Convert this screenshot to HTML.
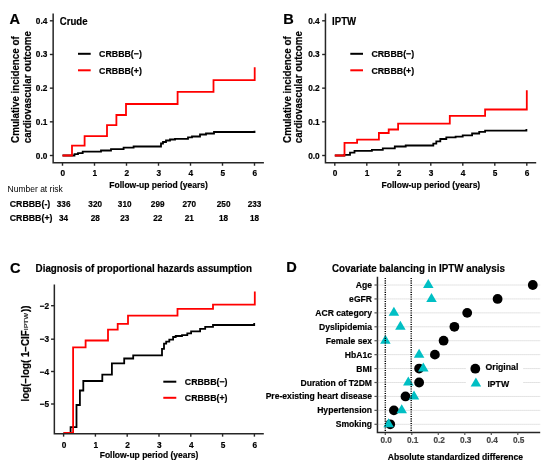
<!DOCTYPE html>
<html><head><meta charset="utf-8"><style>
html,body{margin:0;padding:0;background:#fff;width:550px;height:467px;overflow:hidden}
svg{display:block;filter:blur(0.3px)}
text{font-family:"Liberation Sans", sans-serif}
</style></head><body>
<svg width="550" height="467" viewBox="0 0 550 467">
<rect width="550" height="467" fill="#fff"/>
<text transform="translate(9.50,23.75) scale(1,1.05)" font-size="14.6" font-weight="bold" text-anchor="start" fill="#000"  stroke="#000" stroke-width="0.18">A</text>
<text x="0.00" y="0.00" font-size="9.8" font-weight="bold" text-anchor="middle" fill="#000" transform="translate(19.00,89.6) rotate(-90) scale(1,1.05)" stroke="#000" stroke-width="0.18">Cmulative incidence of</text>
<text x="0.00" y="0.00" font-size="9.75" font-weight="bold" text-anchor="middle" fill="#000" transform="translate(31.30,87.2) rotate(-90) scale(1,1.05)" stroke="#000" stroke-width="0.18">cardiovascular outcome</text>
<path d="M53.15,13.5 V162.75 H263.90" fill="none" stroke="#262626" stroke-width="1.5"/>
<line x1="49.85" y1="155.50" x2="53.15" y2="155.50" stroke="#262626" stroke-width="1.4" />
<text transform="translate(47.40,158.50) scale(1,1.05)" font-size="8.3" font-weight="bold" text-anchor="end" fill="#000"  stroke="#000" stroke-width="0.18">0.0</text>
<line x1="49.85" y1="121.83" x2="53.15" y2="121.83" stroke="#262626" stroke-width="1.4" />
<text transform="translate(47.40,124.83) scale(1,1.05)" font-size="8.3" font-weight="bold" text-anchor="end" fill="#000"  stroke="#000" stroke-width="0.18">0.1</text>
<line x1="49.85" y1="88.15" x2="53.15" y2="88.15" stroke="#262626" stroke-width="1.4" />
<text transform="translate(47.40,91.15) scale(1,1.05)" font-size="8.3" font-weight="bold" text-anchor="end" fill="#000"  stroke="#000" stroke-width="0.18">0.2</text>
<line x1="49.85" y1="54.48" x2="53.15" y2="54.48" stroke="#262626" stroke-width="1.4" />
<text transform="translate(47.40,57.48) scale(1,1.05)" font-size="8.3" font-weight="bold" text-anchor="end" fill="#000"  stroke="#000" stroke-width="0.18">0.3</text>
<line x1="49.85" y1="20.80" x2="53.15" y2="20.80" stroke="#262626" stroke-width="1.4" />
<text transform="translate(47.40,23.80) scale(1,1.05)" font-size="8.3" font-weight="bold" text-anchor="end" fill="#000"  stroke="#000" stroke-width="0.18">0.4</text>
<line x1="62.50" y1="162.75" x2="62.50" y2="165.75" stroke="#262626" stroke-width="1.4" />
<text transform="translate(62.70,176.10) scale(1,1.05)" font-size="8.3" font-weight="bold" text-anchor="middle" fill="#000"  stroke="#000" stroke-width="0.18">0</text>
<line x1="94.50" y1="162.75" x2="94.50" y2="165.75" stroke="#262626" stroke-width="1.4" />
<text transform="translate(94.70,176.10) scale(1,1.05)" font-size="8.3" font-weight="bold" text-anchor="middle" fill="#000"  stroke="#000" stroke-width="0.18">1</text>
<line x1="126.50" y1="162.75" x2="126.50" y2="165.75" stroke="#262626" stroke-width="1.4" />
<text transform="translate(126.70,176.10) scale(1,1.05)" font-size="8.3" font-weight="bold" text-anchor="middle" fill="#000"  stroke="#000" stroke-width="0.18">2</text>
<line x1="158.50" y1="162.75" x2="158.50" y2="165.75" stroke="#262626" stroke-width="1.4" />
<text transform="translate(158.70,176.10) scale(1,1.05)" font-size="8.3" font-weight="bold" text-anchor="middle" fill="#000"  stroke="#000" stroke-width="0.18">3</text>
<line x1="190.50" y1="162.75" x2="190.50" y2="165.75" stroke="#262626" stroke-width="1.4" />
<text transform="translate(190.70,176.10) scale(1,1.05)" font-size="8.3" font-weight="bold" text-anchor="middle" fill="#000"  stroke="#000" stroke-width="0.18">4</text>
<line x1="222.50" y1="162.75" x2="222.50" y2="165.75" stroke="#262626" stroke-width="1.4" />
<text transform="translate(222.70,176.10) scale(1,1.05)" font-size="8.3" font-weight="bold" text-anchor="middle" fill="#000"  stroke="#000" stroke-width="0.18">5</text>
<line x1="254.50" y1="162.75" x2="254.50" y2="165.75" stroke="#262626" stroke-width="1.4" />
<text transform="translate(254.70,176.10) scale(1,1.05)" font-size="8.3" font-weight="bold" text-anchor="middle" fill="#000"  stroke="#000" stroke-width="0.18">6</text>
<text transform="translate(158.60,187.50) scale(1,1.05)" font-size="8.5" font-weight="bold" text-anchor="middle" fill="#000"  stroke="#000" stroke-width="0.18">Follow-up period (years)</text>
<text transform="translate(59.80,25.00) scale(1,1.05)" font-size="9.6" font-weight="bold" text-anchor="start" fill="#000"  stroke="#000" stroke-width="0.18">Crude</text>
<line x1="78.00" y1="53.80" x2="90.70" y2="53.80" stroke="#000" stroke-width="2" />
<line x1="78.00" y1="70.30" x2="90.70" y2="70.30" stroke="#ff0000" stroke-width="2" />
<text transform="translate(99.10,57.30) scale(1,1.05)" font-size="8.8" font-weight="bold" text-anchor="start" fill="#000"  stroke="#000" stroke-width="0.18">CRBBB(−)</text>
<text transform="translate(99.10,73.80) scale(1,1.05)" font-size="8.8" font-weight="bold" text-anchor="start" fill="#000"  stroke="#000" stroke-width="0.18">CRBBB(+)</text>
<polyline points="62.50,155.50 74.50,155.50 74.50,154.20 78.00,154.20 78.00,153.20 82.70,153.20 82.70,151.70 101.00,151.70 101.00,150.50 111.00,150.50 111.00,149.20 123.60,149.20 123.60,147.70 133.60,147.70 133.60,146.50 161.00,146.50 161.00,143.50 163.00,143.50 163.00,142.00 166.00,142.00 166.00,140.50 170.00,140.50 170.00,139.50 175.00,139.50 175.00,138.80 188.00,138.80 188.00,137.30 192.00,137.30 192.00,136.50 200.00,136.50 200.00,134.50 206.00,134.50 206.00,133.50 214.00,133.50 214.00,132.00 254.50,132.00 254.50,130.80" fill="none" stroke="#000" stroke-width="1.8" stroke-linejoin="miter" stroke-linecap="butt"/>
<polyline points="62.50,155.50 72.00,155.50 72.00,145.60 84.60,145.60 84.60,136.20 107.00,136.20 107.00,125.20 116.40,125.20 116.40,115.00 126.00,115.00 126.00,104.00 177.60,104.00 177.60,91.80 213.50,91.80 213.50,80.10 254.70,80.10 254.70,67.20" fill="none" stroke="#ff0000" stroke-width="1.8" stroke-linejoin="miter" stroke-linecap="butt"/>
<text transform="translate(283.20,23.75) scale(1,1.05)" font-size="14.6" font-weight="bold" text-anchor="start" fill="#000"  stroke="#000" stroke-width="0.18">B</text>
<text x="0.00" y="0.00" font-size="9.8" font-weight="bold" text-anchor="middle" fill="#000" transform="translate(290.50,89.6) rotate(-90) scale(1,1.05)" stroke="#000" stroke-width="0.18">Cmulative incidence of</text>
<text x="0.00" y="0.00" font-size="9.75" font-weight="bold" text-anchor="middle" fill="#000" transform="translate(301.90,87.2) rotate(-90) scale(1,1.05)" stroke="#000" stroke-width="0.18">cardiovascular outcome</text>
<path d="M325.45,13.5 V162.75 H536.20" fill="none" stroke="#262626" stroke-width="1.5"/>
<line x1="322.15" y1="155.50" x2="325.45" y2="155.50" stroke="#262626" stroke-width="1.4" />
<text transform="translate(319.70,158.50) scale(1,1.05)" font-size="8.3" font-weight="bold" text-anchor="end" fill="#000"  stroke="#000" stroke-width="0.18">0.0</text>
<line x1="322.15" y1="121.83" x2="325.45" y2="121.83" stroke="#262626" stroke-width="1.4" />
<text transform="translate(319.70,124.83) scale(1,1.05)" font-size="8.3" font-weight="bold" text-anchor="end" fill="#000"  stroke="#000" stroke-width="0.18">0.1</text>
<line x1="322.15" y1="88.15" x2="325.45" y2="88.15" stroke="#262626" stroke-width="1.4" />
<text transform="translate(319.70,91.15) scale(1,1.05)" font-size="8.3" font-weight="bold" text-anchor="end" fill="#000"  stroke="#000" stroke-width="0.18">0.2</text>
<line x1="322.15" y1="54.48" x2="325.45" y2="54.48" stroke="#262626" stroke-width="1.4" />
<text transform="translate(319.70,57.48) scale(1,1.05)" font-size="8.3" font-weight="bold" text-anchor="end" fill="#000"  stroke="#000" stroke-width="0.18">0.3</text>
<line x1="322.15" y1="20.80" x2="325.45" y2="20.80" stroke="#262626" stroke-width="1.4" />
<text transform="translate(319.70,23.80) scale(1,1.05)" font-size="8.3" font-weight="bold" text-anchor="end" fill="#000"  stroke="#000" stroke-width="0.18">0.4</text>
<line x1="334.80" y1="162.75" x2="334.80" y2="165.75" stroke="#262626" stroke-width="1.4" />
<text transform="translate(335.00,176.10) scale(1,1.05)" font-size="8.3" font-weight="bold" text-anchor="middle" fill="#000"  stroke="#000" stroke-width="0.18">0</text>
<line x1="366.80" y1="162.75" x2="366.80" y2="165.75" stroke="#262626" stroke-width="1.4" />
<text transform="translate(367.00,176.10) scale(1,1.05)" font-size="8.3" font-weight="bold" text-anchor="middle" fill="#000"  stroke="#000" stroke-width="0.18">1</text>
<line x1="398.80" y1="162.75" x2="398.80" y2="165.75" stroke="#262626" stroke-width="1.4" />
<text transform="translate(399.00,176.10) scale(1,1.05)" font-size="8.3" font-weight="bold" text-anchor="middle" fill="#000"  stroke="#000" stroke-width="0.18">2</text>
<line x1="430.80" y1="162.75" x2="430.80" y2="165.75" stroke="#262626" stroke-width="1.4" />
<text transform="translate(431.00,176.10) scale(1,1.05)" font-size="8.3" font-weight="bold" text-anchor="middle" fill="#000"  stroke="#000" stroke-width="0.18">3</text>
<line x1="462.80" y1="162.75" x2="462.80" y2="165.75" stroke="#262626" stroke-width="1.4" />
<text transform="translate(463.00,176.10) scale(1,1.05)" font-size="8.3" font-weight="bold" text-anchor="middle" fill="#000"  stroke="#000" stroke-width="0.18">4</text>
<line x1="494.80" y1="162.75" x2="494.80" y2="165.75" stroke="#262626" stroke-width="1.4" />
<text transform="translate(495.00,176.10) scale(1,1.05)" font-size="8.3" font-weight="bold" text-anchor="middle" fill="#000"  stroke="#000" stroke-width="0.18">5</text>
<line x1="526.80" y1="162.75" x2="526.80" y2="165.75" stroke="#262626" stroke-width="1.4" />
<text transform="translate(527.00,176.10) scale(1,1.05)" font-size="8.3" font-weight="bold" text-anchor="middle" fill="#000"  stroke="#000" stroke-width="0.18">6</text>
<text transform="translate(430.90,187.50) scale(1,1.05)" font-size="8.5" font-weight="bold" text-anchor="middle" fill="#000"  stroke="#000" stroke-width="0.18">Follow-up period (years)</text>
<text transform="translate(332.10,25.00) scale(1,1.05)" font-size="9.6" font-weight="bold" text-anchor="start" fill="#000"  stroke="#000" stroke-width="0.18">IPTW</text>
<line x1="350.30" y1="53.80" x2="363.00" y2="53.80" stroke="#000" stroke-width="2" />
<line x1="350.30" y1="70.30" x2="363.00" y2="70.30" stroke="#ff0000" stroke-width="2" />
<text transform="translate(371.40,57.30) scale(1,1.05)" font-size="8.8" font-weight="bold" text-anchor="start" fill="#000"  stroke="#000" stroke-width="0.18">CRBBB(−)</text>
<text transform="translate(371.40,73.80) scale(1,1.05)" font-size="8.8" font-weight="bold" text-anchor="start" fill="#000"  stroke="#000" stroke-width="0.18">CRBBB(+)</text>
<polyline points="334.80,155.50 344.30,155.50 344.30,154.80 350.00,154.80 350.00,152.70 354.50,152.70 354.50,150.90 371.90,150.90 371.90,149.80 382.80,149.80 382.80,148.30 394.80,148.30 394.80,146.50 405.70,146.50 405.70,145.50 433.30,145.50 433.30,143.70 436.30,143.70 436.30,141.30 440.30,141.30 440.30,139.00 446.30,139.00 446.30,137.30 455.60,137.30 455.60,136.60 462.70,136.60 462.70,135.40 472.10,135.40 472.10,133.50 479.20,133.50 479.20,131.90 485.10,131.90 485.10,130.70 526.40,130.70 526.40,129.10" fill="none" stroke="#000" stroke-width="1.8" stroke-linejoin="miter" stroke-linecap="butt"/>
<polyline points="334.80,155.50 344.50,155.50 344.50,142.80 357.10,142.80 357.10,139.60 378.90,139.60 378.90,133.00 388.70,133.00 388.70,129.50 398.10,129.50 398.10,123.60 449.80,123.60 449.80,115.90 485.10,115.90 485.10,109.50 526.80,109.50 526.80,90.20" fill="none" stroke="#ff0000" stroke-width="1.8" stroke-linejoin="miter" stroke-linecap="butt"/>
<text transform="translate(7.60,191.90) scale(1,1.05)" font-size="8.5" font-weight="normal" text-anchor="start" fill="#000" >Number at risk</text>
<text transform="translate(9.70,206.70) scale(1,1.05)" font-size="8.8" font-weight="bold" text-anchor="start" fill="#000"  stroke="#000" stroke-width="0.18">CRBBB(-)</text>
<text transform="translate(9.70,220.60) scale(1,1.05)" font-size="8.8" font-weight="bold" text-anchor="start" fill="#000"  stroke="#000" stroke-width="0.18">CRBBB(+)</text>
<text transform="translate(63.60,206.60) scale(1,1.05)" font-size="8.2" font-weight="bold" text-anchor="middle" fill="#000"  stroke="#000" stroke-width="0.18">336</text>
<text transform="translate(95.20,206.60) scale(1,1.05)" font-size="8.2" font-weight="bold" text-anchor="middle" fill="#000"  stroke="#000" stroke-width="0.18">320</text>
<text transform="translate(124.70,206.60) scale(1,1.05)" font-size="8.2" font-weight="bold" text-anchor="middle" fill="#000"  stroke="#000" stroke-width="0.18">310</text>
<text transform="translate(157.70,206.60) scale(1,1.05)" font-size="8.2" font-weight="bold" text-anchor="middle" fill="#000"  stroke="#000" stroke-width="0.18">299</text>
<text transform="translate(189.30,206.60) scale(1,1.05)" font-size="8.2" font-weight="bold" text-anchor="middle" fill="#000"  stroke="#000" stroke-width="0.18">270</text>
<text transform="translate(223.60,206.60) scale(1,1.05)" font-size="8.2" font-weight="bold" text-anchor="middle" fill="#000"  stroke="#000" stroke-width="0.18">250</text>
<text transform="translate(254.50,206.60) scale(1,1.05)" font-size="8.2" font-weight="bold" text-anchor="middle" fill="#000"  stroke="#000" stroke-width="0.18">233</text>
<text transform="translate(63.60,221.30) scale(1,1.05)" font-size="8.2" font-weight="bold" text-anchor="middle" fill="#000"  stroke="#000" stroke-width="0.18">34</text>
<text transform="translate(95.20,221.30) scale(1,1.05)" font-size="8.2" font-weight="bold" text-anchor="middle" fill="#000"  stroke="#000" stroke-width="0.18">28</text>
<text transform="translate(124.70,221.30) scale(1,1.05)" font-size="8.2" font-weight="bold" text-anchor="middle" fill="#000"  stroke="#000" stroke-width="0.18">23</text>
<text transform="translate(157.70,221.30) scale(1,1.05)" font-size="8.2" font-weight="bold" text-anchor="middle" fill="#000"  stroke="#000" stroke-width="0.18">22</text>
<text transform="translate(189.30,221.30) scale(1,1.05)" font-size="8.2" font-weight="bold" text-anchor="middle" fill="#000"  stroke="#000" stroke-width="0.18">21</text>
<text transform="translate(223.60,221.30) scale(1,1.05)" font-size="8.2" font-weight="bold" text-anchor="middle" fill="#000"  stroke="#000" stroke-width="0.18">18</text>
<text transform="translate(254.50,221.30) scale(1,1.05)" font-size="8.2" font-weight="bold" text-anchor="middle" fill="#000"  stroke="#000" stroke-width="0.18">18</text>
<text transform="translate(10.00,272.60) scale(1,1.05)" font-size="14.6" font-weight="bold" text-anchor="start" fill="#000"  stroke="#000" stroke-width="0.18">C</text>
<text transform="translate(35.60,272.30) scale(1,1.05)" font-size="9.8" font-weight="bold" text-anchor="start" fill="#000"  stroke="#000" stroke-width="0.18">Diagnosis of proportional hazards assumption</text>
<line x1="51.05" y1="305.70" x2="54.35" y2="305.70" stroke="#262626" stroke-width="1.4" />
<text transform="translate(49.00,308.70) scale(1,1.05)" font-size="8.3" font-weight="bold" text-anchor="end" fill="#000"  stroke="#000" stroke-width="0.18">−2</text>
<line x1="51.05" y1="339.20" x2="54.35" y2="339.20" stroke="#262626" stroke-width="1.4" />
<text transform="translate(49.00,342.20) scale(1,1.05)" font-size="8.3" font-weight="bold" text-anchor="end" fill="#000"  stroke="#000" stroke-width="0.18">−3</text>
<line x1="51.05" y1="371.50" x2="54.35" y2="371.50" stroke="#262626" stroke-width="1.4" />
<text transform="translate(49.00,374.50) scale(1,1.05)" font-size="8.3" font-weight="bold" text-anchor="end" fill="#000"  stroke="#000" stroke-width="0.18">−4</text>
<line x1="51.05" y1="404.00" x2="54.35" y2="404.00" stroke="#262626" stroke-width="1.4" />
<text transform="translate(49.00,407.00) scale(1,1.05)" font-size="8.3" font-weight="bold" text-anchor="end" fill="#000"  stroke="#000" stroke-width="0.18">−5</text>
<line x1="63.60" y1="433.65" x2="63.60" y2="436.65" stroke="#262626" stroke-width="1.4" />
<text transform="translate(64.00,448.00) scale(1,1.05)" font-size="8.3" font-weight="bold" text-anchor="middle" fill="#000"  stroke="#000" stroke-width="0.18">0</text>
<line x1="95.40" y1="433.65" x2="95.40" y2="436.65" stroke="#262626" stroke-width="1.4" />
<text transform="translate(95.80,448.00) scale(1,1.05)" font-size="8.3" font-weight="bold" text-anchor="middle" fill="#000"  stroke="#000" stroke-width="0.18">1</text>
<line x1="127.20" y1="433.65" x2="127.20" y2="436.65" stroke="#262626" stroke-width="1.4" />
<text transform="translate(127.60,448.00) scale(1,1.05)" font-size="8.3" font-weight="bold" text-anchor="middle" fill="#000"  stroke="#000" stroke-width="0.18">2</text>
<line x1="159.00" y1="433.65" x2="159.00" y2="436.65" stroke="#262626" stroke-width="1.4" />
<text transform="translate(159.40,448.00) scale(1,1.05)" font-size="8.3" font-weight="bold" text-anchor="middle" fill="#000"  stroke="#000" stroke-width="0.18">3</text>
<line x1="190.80" y1="433.65" x2="190.80" y2="436.65" stroke="#262626" stroke-width="1.4" />
<text transform="translate(191.20,448.00) scale(1,1.05)" font-size="8.3" font-weight="bold" text-anchor="middle" fill="#000"  stroke="#000" stroke-width="0.18">4</text>
<line x1="222.60" y1="433.65" x2="222.60" y2="436.65" stroke="#262626" stroke-width="1.4" />
<text transform="translate(223.00,448.00) scale(1,1.05)" font-size="8.3" font-weight="bold" text-anchor="middle" fill="#000"  stroke="#000" stroke-width="0.18">5</text>
<line x1="254.40" y1="433.65" x2="254.40" y2="436.65" stroke="#262626" stroke-width="1.4" />
<text transform="translate(254.80,448.00) scale(1,1.05)" font-size="8.3" font-weight="bold" text-anchor="middle" fill="#000"  stroke="#000" stroke-width="0.18">6</text>
<text transform="translate(149.00,458.20) scale(1,1.05)" font-size="8.5" font-weight="bold" text-anchor="middle" fill="#000"  stroke="#000" stroke-width="0.18">Follow-up period (years)</text>
<text transform="translate(29.2,401.4) rotate(-90) scale(1,1.05)" font-size="9.8" font-weight="bold" stroke="#000" stroke-width="0.18">log(−log( 1−CIF<tspan font-size="5.4" fill="#3a3a3a" stroke="#3a3a3a" stroke-width="0.1" dy="-1.1" textLength="17.3" lengthAdjust="spacingAndGlyphs">IPTW</tspan><tspan dx="0.9" dy="1.1">))</tspan></text>
<line x1="163.30" y1="381.70" x2="176.30" y2="381.70" stroke="#000" stroke-width="2" />
<line x1="163.30" y1="397.80" x2="176.30" y2="397.80" stroke="#ff0000" stroke-width="2" />
<text transform="translate(184.80,385.20) scale(1,1.05)" font-size="8.8" font-weight="bold" text-anchor="start" fill="#000"  stroke="#000" stroke-width="0.18">CRBBB(−)</text>
<text transform="translate(184.80,401.30) scale(1,1.05)" font-size="8.8" font-weight="bold" text-anchor="start" fill="#000"  stroke="#000" stroke-width="0.18">CRBBB(+)</text>
<clipPath id="cc"><rect x="54" y="280" width="215" height="154"/></clipPath>
<g clip-path="url(#cc)">
<polyline points="63.60,433.00 70.60,433.00 70.60,427.20 76.50,427.20 76.50,405.00 79.90,405.00 79.90,390.50 83.30,390.50 83.30,381.00 102.30,381.00 102.30,374.60 111.90,374.60 111.90,363.30 124.20,363.30 124.20,358.50 133.20,358.50 133.20,355.30 162.00,355.30 162.00,348.90 164.00,348.90 164.00,343.70 166.20,343.70 166.20,341.70 169.30,341.70 169.30,339.60 173.10,339.60 173.10,337.00 175.70,337.00 175.70,336.00 182.00,336.00 182.00,335.20 187.30,335.20 187.30,333.40 191.10,333.40 191.10,331.40 200.10,331.40 200.10,328.80 205.20,328.80 205.20,326.80 213.00,326.80 213.00,325.00 254.20,325.00 254.20,322.90" fill="none" stroke="#000" stroke-width="1.8" stroke-linejoin="miter" stroke-linecap="butt"/>
<polyline points="63.60,433.00 73.10,433.00 73.10,347.30 85.60,347.30 85.60,340.50 108.00,340.50 108.00,329.60 117.70,329.60 117.70,323.80 128.00,323.80 128.00,315.70 177.50,315.70 177.50,308.80 213.00,308.80 213.00,304.70 254.80,304.70 254.80,291.60" fill="none" stroke="#ff0000" stroke-width="1.8" stroke-linejoin="miter" stroke-linecap="butt"/>
</g>
<path d="M54.35,284.4 V433.65 H263.80" fill="none" stroke="#262626" stroke-width="1.5"/>
<text transform="translate(286.30,272.30) scale(1,1.05)" font-size="14.6" font-weight="bold" text-anchor="start" fill="#000"  stroke="#000" stroke-width="0.18">D</text>
<text transform="translate(332.00,272.00) scale(1,1.05)" font-size="9.8" font-weight="bold" text-anchor="start" fill="#000"  stroke="#000" stroke-width="0.18">Covariate balancing in IPTW analysis</text>
<line x1="377.45" y1="285.00" x2="540.20" y2="285.00" stroke="#d2d2d2" stroke-width="1" stroke-dasharray="1.2,0.8"/>
<line x1="377.45" y1="298.93" x2="540.20" y2="298.93" stroke="#d2d2d2" stroke-width="1" stroke-dasharray="1.2,0.8"/>
<line x1="377.45" y1="312.86" x2="540.20" y2="312.86" stroke="#d2d2d2" stroke-width="1" stroke-dasharray="1.2,0.8"/>
<line x1="377.45" y1="326.79" x2="540.20" y2="326.79" stroke="#d2d2d2" stroke-width="1" stroke-dasharray="1.2,0.8"/>
<line x1="377.45" y1="340.72" x2="540.20" y2="340.72" stroke="#d2d2d2" stroke-width="1" stroke-dasharray="1.2,0.8"/>
<line x1="377.45" y1="354.65" x2="540.20" y2="354.65" stroke="#d2d2d2" stroke-width="1" stroke-dasharray="1.2,0.8"/>
<line x1="377.45" y1="368.58" x2="540.20" y2="368.58" stroke="#d2d2d2" stroke-width="1" stroke-dasharray="1.2,0.8"/>
<line x1="377.45" y1="382.51" x2="540.20" y2="382.51" stroke="#d2d2d2" stroke-width="1" stroke-dasharray="1.2,0.8"/>
<line x1="377.45" y1="396.44" x2="540.20" y2="396.44" stroke="#d2d2d2" stroke-width="1" stroke-dasharray="1.2,0.8"/>
<line x1="377.45" y1="410.37" x2="540.20" y2="410.37" stroke="#d2d2d2" stroke-width="1" stroke-dasharray="1.2,0.8"/>
<line x1="377.45" y1="424.30" x2="540.20" y2="424.30" stroke="#d2d2d2" stroke-width="1" stroke-dasharray="1.2,0.8"/>
<path d="M377.45,276.8 V432.60 H540.20" fill="none" stroke="#262626" stroke-width="1.5"/>
<line x1="374.45" y1="285.00" x2="377.45" y2="285.00" stroke="#555" stroke-width="1.2" />
<text transform="translate(372.00,288.00) scale(1,1.05)" font-size="8.6" font-weight="bold" text-anchor="end" fill="#000"  stroke="#000" stroke-width="0.18">Age</text>
<line x1="374.45" y1="298.93" x2="377.45" y2="298.93" stroke="#555" stroke-width="1.2" />
<text transform="translate(372.00,301.93) scale(1,1.05)" font-size="8.6" font-weight="bold" text-anchor="end" fill="#000"  stroke="#000" stroke-width="0.18">eGFR</text>
<line x1="374.45" y1="312.86" x2="377.45" y2="312.86" stroke="#555" stroke-width="1.2" />
<text transform="translate(372.00,315.86) scale(1,1.05)" font-size="8.6" font-weight="bold" text-anchor="end" fill="#000"  stroke="#000" stroke-width="0.18">ACR category</text>
<line x1="374.45" y1="326.79" x2="377.45" y2="326.79" stroke="#555" stroke-width="1.2" />
<text transform="translate(372.00,329.79) scale(1,1.05)" font-size="8.6" font-weight="bold" text-anchor="end" fill="#000"  stroke="#000" stroke-width="0.18">Dyslipidemia</text>
<line x1="374.45" y1="340.72" x2="377.45" y2="340.72" stroke="#555" stroke-width="1.2" />
<text transform="translate(372.00,343.72) scale(1,1.05)" font-size="8.6" font-weight="bold" text-anchor="end" fill="#000"  stroke="#000" stroke-width="0.18">Female sex</text>
<line x1="374.45" y1="354.65" x2="377.45" y2="354.65" stroke="#555" stroke-width="1.2" />
<text transform="translate(372.00,357.65) scale(1,1.05)" font-size="8.6" font-weight="bold" text-anchor="end" fill="#000"  stroke="#000" stroke-width="0.18">HbA1c</text>
<line x1="374.45" y1="368.58" x2="377.45" y2="368.58" stroke="#555" stroke-width="1.2" />
<text transform="translate(372.00,371.58) scale(1,1.05)" font-size="8.6" font-weight="bold" text-anchor="end" fill="#000"  stroke="#000" stroke-width="0.18">BMI</text>
<line x1="374.45" y1="382.51" x2="377.45" y2="382.51" stroke="#555" stroke-width="1.2" />
<text transform="translate(372.00,385.51) scale(1,1.05)" font-size="8.6" font-weight="bold" text-anchor="end" fill="#000"  stroke="#000" stroke-width="0.18">Duration of T2DM</text>
<line x1="374.45" y1="396.44" x2="377.45" y2="396.44" stroke="#555" stroke-width="1.2" />
<text transform="translate(372.00,399.44) scale(1,1.05)" font-size="8.6" font-weight="bold" text-anchor="end" fill="#000"  stroke="#000" stroke-width="0.18">Pre-existing heart disease</text>
<line x1="374.45" y1="410.37" x2="377.45" y2="410.37" stroke="#555" stroke-width="1.2" />
<text transform="translate(372.00,413.37) scale(1,1.05)" font-size="8.6" font-weight="bold" text-anchor="end" fill="#000"  stroke="#000" stroke-width="0.18">Hypertension</text>
<line x1="374.45" y1="424.30" x2="377.45" y2="424.30" stroke="#555" stroke-width="1.2" />
<text transform="translate(372.00,427.30) scale(1,1.05)" font-size="8.6" font-weight="bold" text-anchor="end" fill="#000"  stroke="#000" stroke-width="0.18">Smoking</text>
<line x1="385.30" y1="432.60" x2="385.30" y2="435.10" stroke="#555" stroke-width="1.2" />
<text transform="translate(386.20,442.90) scale(1,1.05)" font-size="8.3" font-weight="bold" text-anchor="middle" fill="#484848"  stroke="#484848" stroke-width="0.18">0.0</text>
<line x1="411.80" y1="432.60" x2="411.80" y2="435.10" stroke="#555" stroke-width="1.2" />
<text transform="translate(412.70,442.90) scale(1,1.05)" font-size="8.3" font-weight="bold" text-anchor="middle" fill="#484848"  stroke="#484848" stroke-width="0.18">0.1</text>
<line x1="438.30" y1="432.60" x2="438.30" y2="435.10" stroke="#555" stroke-width="1.2" />
<text transform="translate(439.20,442.90) scale(1,1.05)" font-size="8.3" font-weight="bold" text-anchor="middle" fill="#484848"  stroke="#484848" stroke-width="0.18">0.2</text>
<line x1="464.80" y1="432.60" x2="464.80" y2="435.10" stroke="#555" stroke-width="1.2" />
<text transform="translate(465.70,442.90) scale(1,1.05)" font-size="8.3" font-weight="bold" text-anchor="middle" fill="#484848"  stroke="#484848" stroke-width="0.18">0.3</text>
<line x1="491.30" y1="432.60" x2="491.30" y2="435.10" stroke="#555" stroke-width="1.2" />
<text transform="translate(492.20,442.90) scale(1,1.05)" font-size="8.3" font-weight="bold" text-anchor="middle" fill="#484848"  stroke="#484848" stroke-width="0.18">0.4</text>
<line x1="517.80" y1="432.60" x2="517.80" y2="435.10" stroke="#555" stroke-width="1.2" />
<text transform="translate(518.70,442.90) scale(1,1.05)" font-size="8.3" font-weight="bold" text-anchor="middle" fill="#484848"  stroke="#484848" stroke-width="0.18">0.5</text>
<text transform="translate(455.40,459.70) scale(1,1.05)" font-size="8.6" font-weight="bold" text-anchor="middle" fill="#000"  stroke="#000" stroke-width="0.18">Absolute standardized difference</text>
<circle cx="532.80" cy="285.00" r="4.9" fill="#000"/>
<circle cx="497.60" cy="298.93" r="4.9" fill="#000"/>
<circle cx="467.20" cy="312.86" r="4.9" fill="#000"/>
<circle cx="454.40" cy="326.79" r="4.9" fill="#000"/>
<circle cx="443.60" cy="340.72" r="4.9" fill="#000"/>
<circle cx="434.90" cy="354.65" r="4.9" fill="#000"/>
<circle cx="419.10" cy="368.58" r="4.9" fill="#000"/>
<circle cx="419.10" cy="382.51" r="4.9" fill="#000"/>
<circle cx="405.50" cy="396.44" r="4.9" fill="#000"/>
<circle cx="393.90" cy="410.37" r="4.9" fill="#000"/>
<circle cx="390.20" cy="424.30" r="4.9" fill="#000"/>
<path d="M428.30,279.00 L433.55,288.00 L423.05,288.00 Z" fill="#00bfc4"/>
<path d="M431.50,292.93 L436.75,301.93 L426.25,301.93 Z" fill="#00bfc4"/>
<path d="M393.90,306.86 L399.15,315.86 L388.65,315.86 Z" fill="#00bfc4"/>
<path d="M400.40,320.79 L405.65,329.79 L395.15,329.79 Z" fill="#00bfc4"/>
<path d="M385.40,334.72 L390.65,343.72 L380.15,343.72 Z" fill="#00bfc4"/>
<path d="M419.10,348.65 L424.35,357.65 L413.85,357.65 Z" fill="#00bfc4"/>
<path d="M423.30,362.58 L428.55,371.58 L418.05,371.58 Z" fill="#00bfc4"/>
<path d="M408.30,376.51 L413.55,385.51 L403.05,385.51 Z" fill="#00bfc4"/>
<path d="M414.00,390.44 L419.25,399.44 L408.75,399.44 Z" fill="#00bfc4"/>
<path d="M401.70,404.37 L406.95,413.37 L396.45,413.37 Z" fill="#00bfc4"/>
<path d="M388.60,418.30 L393.85,427.30 L383.35,427.30 Z" fill="#00bfc4"/>
<line x1="385.30" y1="278.00" x2="385.30" y2="432.60" stroke="#000" stroke-width="1.45" stroke-dasharray="1.1,1.2"/>
<line x1="411.20" y1="278.00" x2="411.20" y2="432.60" stroke="#000" stroke-width="1.45" stroke-dasharray="1.1,1.2"/>
<rect x="466" y="360" width="57" height="30" fill="#fff"/>
<circle cx="475.3" cy="368.7" r="4.9" fill="#000"/>
<path d="M475.90,377.60 L481.15,386.60 L470.65,386.60 Z" fill="#00bfc4"/>
<text transform="translate(485.50,369.60) scale(1,1.05)" font-size="8.7" font-weight="bold" text-anchor="start" fill="#000"  stroke="#000" stroke-width="0.18">Original</text>
<text transform="translate(487.40,386.80) scale(1,1.05)" font-size="8.7" font-weight="bold" text-anchor="start" fill="#000"  stroke="#000" stroke-width="0.18">IPTW</text>
</svg>
</body></html>
